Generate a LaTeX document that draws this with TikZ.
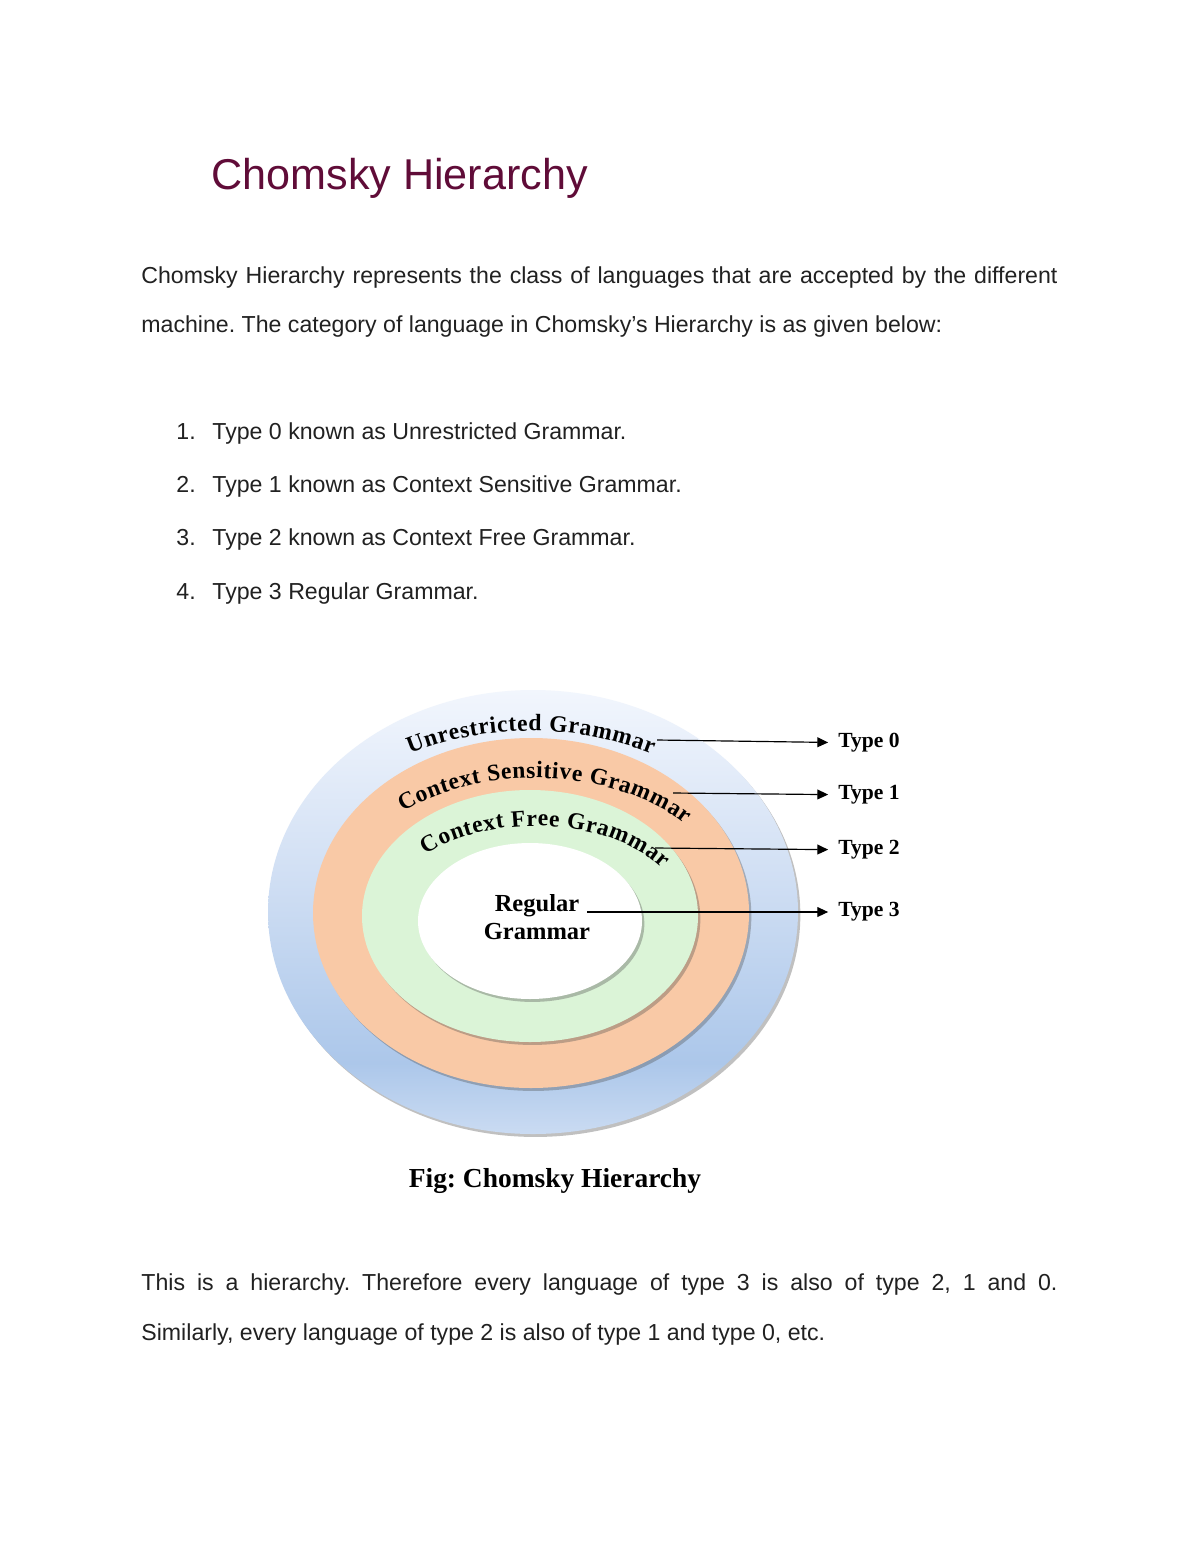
\documentclass[tikz,border=0pt]{standalone}
\usepackage{fontspec}
\setmainfont{Liberation Sans}
\newfontfamily\figfont{Liberation Serif}
\usetikzlibrary{arrows.meta,positioning,shadows,decorations.text}
\definecolor{titlered}{RGB}{96,12,56}
\definecolor{bodygray}{RGB}{33,33,33}
\definecolor{blueTop}{RGB}{242,246,253}
\definecolor{blueMid}{RGB}{210,224,244}
\definecolor{blueDeep}{RGB}{172,199,234}
\definecolor{blueEdge}{RGB}{202,219,242}
\definecolor{peach}{RGB}{249,201,166}
\definecolor{mint}{RGB}{219,244,215}
\pgfdeclareverticalshading{outerband}{100bp}{color(0bp)=(blueEdge); color(25bp)=(blueEdge); color(33bp)=(blueDeep); color(55bp)=(blueMid); color(75bp)=(blueTop); color(100bp)=(blueTop)}
\frenchspacing

\begin{document}
\begin{tikzpicture}[x=0.51pt, y=-0.51pt,
  body/.style={anchor=base west, inner sep=0pt, text=bodygray, font=\fontsize{11.8}{14}\selectfont},
  ring/.style={drop shadow={shadow xshift=1.2pt, shadow yshift=-1.5pt, opacity=0.35, fill=black!70}},
  typelabel/.style={anchor=west, inner sep=1pt, font=\figfont\bfseries\fontsize{11}{13}\selectfont},
  pointer/.style={-{Triangle[length=5.5pt,width=5pt]}, line width=0.6pt, shorten >=4pt},
  arclabel/.style={decorate, decoration={text along path, text align=fit to path,
    text={|\figfont\bfseries\fontsize{12}{14}\selectfont|#1}}}]

  \useasboundingbox[fill=white] (0,0) rectangle (1200,1553);

  \node[anchor=base west, inner sep=0pt, text=titlered, font=\fontsize{22}{26}\selectfont] (title) at (211,190) {Chomsky Hierarchy};
  \node[body] (intro1) at (141,283) {\makebox[467.2pt][s]{Chomsky Hierarchy represents the class of languages that are accepted by the different}};
  \node[body] (intro2) at (141,332) {machine. The category of language in Chomsky's Hierarchy is as given below:};

  \foreach \k/\y/\txt in {1/439/Type 0 known as Unrestricted Grammar.,
                          2/492/Type 1 known as Context Sensitive Grammar.,
                          3/545/Type 2 known as Context Free Grammar.,
                          4/599/Type 3 Regular Grammar.} {
    \node[body] (num\k) at (176,\y) {\k.};
    \node[body] (item\k) at (212,\y) {\txt};
  }

  \shade[ring, shading=outerband] (533,912) ellipse [x radius=265, y radius=222];
  \fill[ring, peach] (531,913) ellipse [x radius=218, y radius=175];
  \fill[ring, mint] (530,916) ellipse [x radius=168, y radius=126];
  \fill[ring, white] (530,921) ellipse [x radius=112, y radius=78];

  \path[arclabel=Unrestricted Grammar] plot[domain=61:119, samples=50] ({531-250*cos(\x)},{913-182*sin(\x)});
  \path[arclabel=Context Sensitive Grammar] plot[domain=48.7:138.6, samples=50] ({535-200*cos(\x)},{913-135*sin(\x)});
  \path[arclabel=Context Free Grammar] plot[domain=43.4:147.9, samples=50] ({535-150*cos(\x)},{916-90*sin(\x)});

  \node[font=\figfont\bfseries\fontsize{12.5}{14.3}\selectfont, align=center, inner sep=2pt] (regular) at (537,917) {Regular\\Grammar};

  \foreach \k/\y in {0/743,1/795,2/850,3/912} {
    \node[typelabel] (type\k) at (836,\y) {Type \k};
  }
  \coordinate (unres-end) at (657,740);
  \coordinate (sens-end) at (673,793);
  \coordinate (free-end) at (655,848);
  \coordinate (reg-end) at (587,912);
  \draw[pointer] (unres-end) -- (type0);
  \draw[pointer] (sens-end) -- (type1);
  \draw[pointer] (free-end) -- (type2);
  \draw[pointer] (reg-end) -- (type3);

  \node[anchor=base, font=\figfont\bfseries\fontsize{14}{17}\selectfont] (caption) at (555,1187) {Fig: Chomsky Hierarchy};

  \node[body] (outro1) at (141,1290) {\makebox[467.2pt][s]{This is a hierarchy. Therefore every language of type 3 is also of type 2, 1 and 0.}};
  \node[body] (outro2) at (141,1340) {Similarly, every language of type 2 is also of type 1 and type 0, etc.};
\end{tikzpicture}
\end{document}
